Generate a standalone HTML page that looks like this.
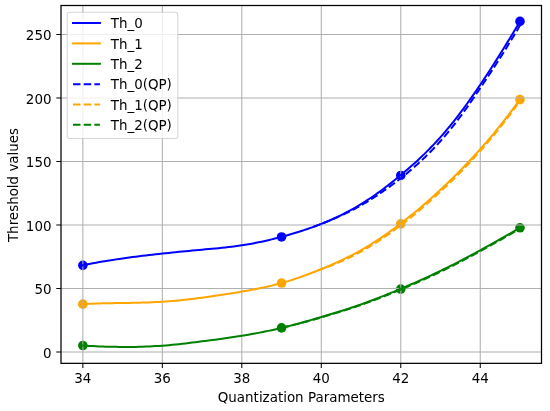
<!DOCTYPE html>
<html><head><meta charset="utf-8"><title>Threshold values vs Quantization Parameters</title>
<style>html,body{margin:0;padding:0;background:#fff;}body{width:550px;height:411px;overflow:hidden}svg{display:block}</style></head>
<body>
<svg width="550" height="411" viewBox="0 0 550 411" font-family="'DejaVu Sans', 'Liberation Sans', sans-serif" font-size="13.45px" fill="#000">
<rect width="550" height="411" fill="#fff"/>
<circle cx="82.85" cy="265.28" r="4.8" fill="#0000ff"/>
<circle cx="281.55" cy="236.95" r="4.8" fill="#0000ff"/>
<circle cx="400.77" cy="175.47" r="4.8" fill="#0000ff"/>
<circle cx="519.99" cy="21.40" r="4.8" fill="#0000ff"/>
<circle cx="82.85" cy="304.14" r="4.8" fill="#ffa500"/>
<circle cx="281.55" cy="283.06" r="4.8" fill="#ffa500"/>
<circle cx="400.77" cy="223.87" r="4.8" fill="#ffa500"/>
<circle cx="519.99" cy="99.64" r="4.8" fill="#ffa500"/>
<circle cx="82.85" cy="345.55" r="4.8" fill="#008000"/>
<circle cx="281.55" cy="327.90" r="4.8" fill="#008000"/>
<circle cx="400.77" cy="289.03" r="4.8" fill="#008000"/>
<circle cx="519.99" cy="227.80" r="4.8" fill="#008000"/>
<path d="M82.85,5.5V363.35M162.33,5.5V363.35M241.81,5.5V363.35M321.29,5.5V363.35M400.77,5.5V363.35M480.25,5.5V363.35M61.0,352.03H541.5M61.0,288.52H541.5M61.0,225.01H541.5M61.0,161.50H541.5M61.0,97.99H541.5M61.0,34.48H541.5" stroke="#b0b0b0" stroke-width="1.05" fill="none"/>
<clipPath id="c"><rect x="61.0" y="5.5" width="480.5" height="357.85"/></clipPath>
<g clip-path="url(#c)" fill="none" stroke-linejoin="round">
<path d="M82.85,265.28 L86.16,264.59 L89.47,263.93 L92.78,263.30 L96.10,262.68 L99.41,262.08 L102.72,261.51 L106.03,260.95 L109.34,260.41 L112.66,259.89 L115.97,259.38 L119.28,258.89 L122.59,258.42 L125.90,257.96 L129.21,257.51 L132.53,257.07 L135.84,256.65 L139.15,256.24 L142.46,255.83 L145.77,255.44 L149.08,255.06 L152.39,254.68 L155.71,254.31 L159.02,253.95 L162.33,253.59 L165.64,253.24 L168.95,252.89 L172.26,252.54 L175.58,252.20 L178.89,251.87 L182.20,251.54 L185.51,251.21 L188.82,250.89 L192.13,250.58 L195.45,250.26 L198.76,249.96 L202.07,249.65 L205.38,249.35 L208.69,249.05 L212.00,248.75 L215.32,248.45 L218.63,248.13 L221.94,247.80 L225.25,247.45 L228.56,247.08 L231.88,246.69 L235.19,246.27 L238.50,245.82 L241.81,245.33 L245.12,244.81 L248.43,244.25 L251.75,243.65 L255.06,243.02 L258.37,242.35 L261.68,241.65 L264.99,240.92 L268.30,240.16 L271.62,239.37 L274.93,238.55 L278.24,237.70 L281.55,236.82 L284.86,235.92 L288.17,234.99 L291.49,234.04 L294.80,233.05 L298.11,232.03 L301.42,230.98 L304.73,229.89 L308.04,228.77 L311.36,227.60 L314.67,226.40 L317.98,225.15 L321.29,223.87 L324.60,222.53 L327.91,221.15 L331.23,219.72 L334.54,218.24 L337.85,216.70 L341.16,215.11 L344.47,213.45 L347.78,211.73 L351.10,209.95 L354.41,208.10 L357.72,206.17 L361.03,204.18 L364.34,202.11 L367.65,199.96 L370.97,197.75 L374.28,195.47 L377.59,193.12 L380.90,190.71 L384.21,188.24 L387.52,185.72 L390.84,183.13 L394.15,180.50 L397.46,177.82 L400.77,175.09 L404.08,172.32 L407.39,169.49 L410.71,166.61 L414.02,163.67 L417.33,160.66 L420.64,157.57 L423.95,154.40 L427.26,151.14 L430.58,147.79 L433.89,144.34 L437.20,140.78 L440.51,137.11 L443.82,133.32 L447.13,129.42 L450.45,125.40 L453.76,121.27 L457.07,117.04 L460.38,112.71 L463.69,108.28 L467.00,103.75 L470.32,99.14 L473.63,94.44 L476.94,89.65 L480.25,84.78 L483.56,79.84 L486.87,74.82 L490.19,69.73 L493.50,64.58 L496.81,59.36 L500.12,54.09 L503.43,48.76 L506.74,43.37 L510.06,37.94 L513.37,32.47 L516.68,26.95 L519.99,21.40" stroke="#0000ff" stroke-width="2.0" stroke-linecap="square"/>
<path d="M82.85,304.14 L86.16,303.97 L89.47,303.81 L92.78,303.67 L96.10,303.55 L99.41,303.45 L102.72,303.36 L106.03,303.29 L109.34,303.22 L112.66,303.16 L115.97,303.10 L119.28,303.05 L122.59,303.00 L125.90,302.95 L129.21,302.89 L132.53,302.83 L135.84,302.77 L139.15,302.69 L142.46,302.61 L145.77,302.51 L149.08,302.39 L152.39,302.26 L155.71,302.10 L159.02,301.93 L162.33,301.73 L165.64,301.51 L168.95,301.26 L172.26,300.99 L175.58,300.69 L178.89,300.38 L182.20,300.04 L185.51,299.69 L188.82,299.31 L192.13,298.92 L195.45,298.52 L198.76,298.10 L202.07,297.67 L205.38,297.22 L208.69,296.76 L212.00,296.29 L215.32,295.81 L218.63,295.32 L221.94,294.82 L225.25,294.30 L228.56,293.78 L231.88,293.24 L235.19,292.69 L238.50,292.14 L241.81,291.57 L245.12,290.99 L248.43,290.40 L251.75,289.79 L255.06,289.16 L258.37,288.52 L261.68,287.84 L264.99,287.13 L268.30,286.40 L271.62,285.62 L274.93,284.81 L278.24,283.96 L281.55,283.06 L284.86,282.11 L288.17,281.12 L291.49,280.08 L294.80,279.00 L298.11,277.88 L301.42,276.72 L304.73,275.53 L308.04,274.30 L311.36,273.04 L314.67,271.75 L317.98,270.43 L321.29,269.09 L324.60,267.72 L327.91,266.32 L331.23,264.90 L334.54,263.44 L337.85,261.94 L341.16,260.40 L344.47,258.82 L347.78,257.20 L351.10,255.52 L354.41,253.79 L357.72,252.01 L361.03,250.16 L364.34,248.25 L367.65,246.28 L370.97,244.26 L374.28,242.17 L377.59,240.02 L380.90,237.82 L384.21,235.56 L387.52,233.25 L390.84,230.88 L394.15,228.47 L397.46,226.00 L400.77,223.49 L404.08,220.92 L407.39,218.31 L410.71,215.65 L414.02,212.95 L417.33,210.20 L420.64,207.40 L423.95,204.56 L427.26,201.68 L430.58,198.75 L433.89,195.77 L437.20,192.76 L440.51,189.70 L443.82,186.60 L447.13,183.45 L450.45,180.26 L453.76,177.02 L457.07,173.74 L460.38,170.40 L463.69,167.00 L467.00,163.56 L470.32,160.05 L473.63,156.49 L476.94,152.87 L480.25,149.18 L483.56,145.43 L486.87,141.61 L490.19,137.73 L493.50,133.77 L496.81,129.74 L500.12,125.64 L503.43,121.47 L506.74,117.21 L510.06,112.88 L513.37,108.47 L516.68,103.97 L519.99,99.39" stroke="#ffa500" stroke-width="2.0" stroke-linecap="square"/>
<path d="M82.85,345.55 L86.16,345.74 L89.47,345.92 L92.78,346.09 L96.10,346.24 L99.41,346.38 L102.72,346.51 L106.03,346.63 L109.34,346.72 L112.66,346.81 L115.97,346.87 L119.28,346.92 L122.59,346.95 L125.90,346.96 L129.21,346.95 L132.53,346.93 L135.84,346.88 L139.15,346.81 L142.46,346.72 L145.77,346.61 L149.08,346.47 L152.39,346.31 L155.71,346.12 L159.02,345.91 L162.33,345.68 L165.64,345.42 L168.95,345.13 L172.26,344.82 L175.58,344.49 L178.89,344.14 L182.20,343.78 L185.51,343.40 L188.82,343.01 L192.13,342.61 L195.45,342.20 L198.76,341.78 L202.07,341.36 L205.38,340.94 L208.69,340.51 L212.00,340.08 L215.32,339.64 L218.63,339.19 L221.94,338.74 L225.25,338.27 L228.56,337.80 L231.88,337.31 L235.19,336.81 L238.50,336.30 L241.81,335.77 L245.12,335.23 L248.43,334.66 L251.75,334.08 L255.06,333.48 L258.37,332.86 L261.68,332.22 L264.99,331.56 L268.30,330.88 L271.62,330.17 L274.93,329.44 L278.24,328.68 L281.55,327.90 L284.86,327.09 L288.17,326.25 L291.49,325.40 L294.80,324.52 L298.11,323.62 L301.42,322.71 L304.73,321.78 L308.04,320.84 L311.36,319.88 L314.67,318.92 L317.98,317.95 L321.29,316.97 L324.60,315.99 L327.91,315.01 L331.23,314.01 L334.54,313.01 L337.85,312.00 L341.16,310.97 L344.47,309.92 L347.78,308.86 L351.10,307.78 L354.41,306.68 L357.72,305.55 L361.03,304.40 L364.34,303.22 L367.65,302.01 L370.97,300.78 L374.28,299.52 L377.59,298.24 L380.90,296.94 L384.21,295.62 L387.52,294.28 L390.84,292.93 L394.15,291.56 L397.46,290.17 L400.77,288.77 L404.08,287.36 L407.39,285.94 L410.71,284.51 L414.02,283.06 L417.33,281.60 L420.64,280.12 L423.95,278.62 L427.26,277.11 L430.58,275.58 L433.89,274.03 L437.20,272.46 L440.51,270.86 L443.82,269.25 L447.13,267.62 L450.45,265.96 L453.76,264.29 L457.07,262.60 L460.38,260.89 L463.69,259.16 L467.00,257.42 L470.32,255.66 L473.63,253.88 L476.94,252.09 L480.25,250.29 L483.56,248.47 L486.87,246.64 L490.19,244.80 L493.50,242.94 L496.81,241.08 L500.12,239.21 L503.43,237.33 L506.74,235.44 L510.06,233.54 L513.37,231.63 L516.68,229.72 L519.99,227.80" stroke="#008000" stroke-width="2.0" stroke-linecap="square"/>
<path d="M313.34,226.89 L314.12,226.60 L314.91,226.31 L315.69,226.02 L316.47,225.74 L317.26,225.44 L318.04,225.15 L318.82,224.86 L319.60,224.56 L320.39,224.27 L321.17,223.97 L321.95,223.67 L322.74,223.37 L323.52,223.06 L324.30,222.76 L325.08,222.45 L325.87,222.14 L326.65,221.82 L327.43,221.51 L328.21,221.19 L329.00,220.87 L329.78,220.55 L330.56,220.22 L331.35,219.89 L332.13,219.56 L332.91,219.22 L333.69,218.89 L334.48,218.55 L335.26,218.20 L336.04,217.86 L336.82,217.51 L337.61,217.16 L338.39,216.81 L339.17,216.46 L339.96,216.10 L340.74,215.74 L341.52,215.38 L342.30,215.02 L343.09,214.65 L343.87,214.28 L344.65,213.91 L345.44,213.53 L346.22,213.15 L347.00,212.77 L347.78,212.38 L348.57,211.99 L349.35,211.60 L350.13,211.21 L350.91,210.81 L351.70,210.41 L352.48,210.00 L353.26,209.59 L354.05,209.18 L354.83,208.76 L355.61,208.34 L356.39,207.92 L357.18,207.49 L357.96,207.06 L358.74,206.62 L359.52,206.18 L360.31,205.74 L361.09,205.29 L361.87,204.83 L362.66,204.38 L363.44,203.92 L364.22,203.46 L365.00,202.99 L365.79,202.52 L366.57,202.05 L367.35,201.57 L368.14,201.09 L368.92,200.61 L369.70,200.12 L370.48,199.63 L371.27,199.14 L372.05,198.64 L372.83,198.14 L373.61,197.64 L374.40,197.13 L375.18,196.62 L375.96,196.11 L376.75,195.59 L377.53,195.07 L378.31,194.55 L379.09,194.02 L379.88,193.49 L380.66,192.96 L381.44,192.42 L382.22,191.88 L383.01,191.34 L383.79,190.79 L384.57,190.24 L385.36,189.69 L386.14,189.13 L386.92,188.58 L387.70,188.02 L388.49,187.46 L389.27,186.90 L390.05,186.33 L390.84,185.77 L391.62,185.20 L392.40,184.62 L393.18,184.05 L393.97,183.47 L394.75,182.89 L395.53,182.30 L396.31,181.71 L397.10,181.12 L397.88,180.52 L398.66,179.91 L399.45,179.31 L400.23,178.69 L401.01,178.08 L401.79,177.45 L402.58,176.83 L403.36,176.20 L404.14,175.57 L404.92,174.94 L405.71,174.30 L406.49,173.66 L407.27,173.01 L408.06,172.36 L408.84,171.70 L409.62,171.05 L410.40,170.38 L411.19,169.71 L411.97,169.04 L412.75,168.36 L413.53,167.68 L414.32,166.99 L415.10,166.30 L415.88,165.60 L416.67,164.90 L417.45,164.20 L418.23,163.49 L419.01,162.78 L419.80,162.06 L420.58,161.34 L421.36,160.61 L422.15,159.88 L422.93,159.15 L423.71,158.40 L424.49,157.66 L425.28,156.91 L426.06,156.15 L426.84,155.39 L427.62,154.62 L428.41,153.84 L429.19,153.06 L429.97,152.28 L430.76,151.48 L431.54,150.68 L432.32,149.88 L433.10,149.07 L433.89,148.25 L434.67,147.42 L435.45,146.59 L436.23,145.75 L437.02,144.91 L437.80,144.06 L438.58,143.20 L439.37,142.33 L440.15,141.46 L440.93,140.57 L441.71,139.68 L442.50,138.79 L443.28,137.89 L444.06,136.98 L444.85,136.06 L445.63,135.13 L446.41,134.20 L447.19,133.27 L447.98,132.32 L448.76,131.37 L449.54,130.41 L450.32,129.45 L451.11,128.48 L451.89,127.50 L452.67,126.52 L453.46,125.53 L454.24,124.54 L455.02,123.53 L455.80,122.53 L456.59,121.51 L457.37,120.49 L458.15,119.47 L458.93,118.44 L459.72,117.40 L460.50,116.36 L461.28,115.31 L462.07,114.25 L462.85,113.19 L463.63,112.11 L464.41,111.03 L465.20,109.94 L465.98,108.85 L466.76,107.74 L467.55,106.64 L468.33,105.52 L469.11,104.40 L469.89,103.28 L470.68,102.15 L471.46,101.01 L472.24,99.88 L473.02,98.73 L473.81,97.59 L474.59,96.44 L475.37,95.29 L476.16,94.14 L476.94,92.98 L477.72,91.83 L478.50,90.67 L479.29,89.51 L480.07,88.35 L480.85,87.19 L481.63,86.03 L482.42,84.86 L483.20,83.70 L483.98,82.53 L484.77,81.36 L485.55,80.18 L486.33,79.01 L487.11,77.83 L487.90,76.65 L488.68,75.47 L489.46,74.28 L490.25,73.09 L491.03,71.90 L491.81,70.71 L492.59,69.51 L493.38,68.31 L494.16,67.11 L494.94,65.90 L495.72,64.70 L496.51,63.48 L497.29,62.27 L498.07,61.05 L498.86,59.82 L499.64,58.60 L500.42,57.37 L501.20,56.13 L501.99,54.90 L502.77,53.66 L503.55,52.41 L504.33,51.16 L505.12,49.91 L505.90,48.65 L506.68,47.39 L507.47,46.12 L508.25,44.85 L509.03,43.58 L509.81,42.30 L510.60,41.02 L511.38,39.74 L512.16,38.45 L512.95,37.17 L513.73,35.88 L514.51,34.58 L515.29,33.29 L516.08,31.99 L516.86,30.69 L517.64,29.39 L518.42,28.08 L519.21,26.77 L519.99,25.46" stroke="#0000ff" stroke-width="2.0" stroke-dasharray="7.47 3.23"/>
<path d="M317.32,270.70 L318.08,270.39 L318.85,270.09 L319.62,269.80 L320.39,269.51 L321.15,269.23 L321.92,268.95 L322.69,268.67 L323.46,268.40 L324.23,268.13 L324.99,267.85 L325.76,267.58 L326.53,267.31 L327.30,267.03 L328.06,266.76 L328.83,266.48 L329.60,266.19 L330.37,265.90 L331.13,265.61 L331.90,265.31 L332.67,265.01 L333.44,264.69 L334.21,264.38 L334.97,264.06 L335.74,263.74 L336.51,263.41 L337.28,263.09 L338.04,262.76 L338.81,262.43 L339.58,262.09 L340.35,261.76 L341.11,261.42 L341.88,261.08 L342.65,260.73 L343.42,260.38 L344.19,260.03 L344.95,259.68 L345.72,259.32 L346.49,258.97 L347.26,258.60 L348.02,258.24 L348.79,257.87 L349.56,257.50 L350.33,257.13 L351.10,256.75 L351.86,256.37 L352.63,255.98 L353.40,255.60 L354.17,255.21 L354.93,254.81 L355.70,254.41 L356.47,254.01 L357.24,253.61 L358.00,253.20 L358.77,252.79 L359.54,252.37 L360.31,251.95 L361.08,251.53 L361.84,251.11 L362.61,250.68 L363.38,250.24 L364.15,249.81 L364.91,249.37 L365.68,248.92 L366.45,248.48 L367.22,248.03 L367.98,247.57 L368.75,247.12 L369.52,246.66 L370.29,246.19 L371.06,245.73 L371.82,245.26 L372.59,244.78 L373.36,244.31 L374.13,243.83 L374.89,243.34 L375.66,242.86 L376.43,242.37 L377.20,241.87 L377.96,241.38 L378.73,240.88 L379.50,240.38 L380.27,239.87 L381.04,239.36 L381.80,238.85 L382.57,238.34 L383.34,237.82 L384.11,237.30 L384.87,236.77 L385.64,236.25 L386.41,235.72 L387.18,235.18 L387.94,234.65 L388.71,234.11 L389.48,233.57 L390.25,233.02 L391.02,232.47 L391.78,231.92 L392.55,231.37 L393.32,230.81 L394.09,230.25 L394.85,229.69 L395.62,229.13 L396.39,228.56 L397.16,227.99 L397.92,227.41 L398.69,226.84 L399.46,226.26 L400.23,225.68 L401.00,225.09 L401.76,224.50 L402.53,223.91 L403.30,223.32 L404.07,222.73 L404.83,222.13 L405.60,221.53 L406.37,220.93 L407.14,220.32 L407.91,219.72 L408.67,219.10 L409.44,218.49 L410.21,217.88 L410.98,217.26 L411.74,216.64 L412.51,216.02 L413.28,215.39 L414.05,214.76 L414.81,214.13 L415.58,213.50 L416.35,212.86 L417.12,212.23 L417.89,211.59 L418.65,210.94 L419.42,210.30 L420.19,209.65 L420.96,209.00 L421.72,208.35 L422.49,207.69 L423.26,207.03 L424.03,206.37 L424.79,205.71 L425.56,205.04 L426.33,204.38 L427.10,203.71 L427.87,203.03 L428.63,202.36 L429.40,201.68 L430.17,201.00 L430.94,200.32 L431.70,199.63 L432.47,198.95 L433.24,198.26 L434.01,197.56 L434.77,196.87 L435.54,196.17 L436.31,195.47 L437.08,194.77 L437.85,194.07 L438.61,193.36 L439.38,192.65 L440.15,191.94 L440.92,191.23 L441.68,190.51 L442.45,189.79 L443.22,189.07 L443.99,188.35 L444.75,187.62 L445.52,186.89 L446.29,186.16 L447.06,185.42 L447.83,184.69 L448.59,183.95 L449.36,183.21 L450.13,182.46 L450.90,181.72 L451.66,180.97 L452.43,180.21 L453.20,179.46 L453.97,178.70 L454.74,177.94 L455.50,177.18 L456.27,176.41 L457.04,175.64 L457.81,174.87 L458.57,174.09 L459.34,173.32 L460.11,172.54 L460.88,171.75 L461.64,170.97 L462.41,170.18 L463.18,169.38 L463.95,168.59 L464.72,167.79 L465.48,166.99 L466.25,166.18 L467.02,165.38 L467.79,164.57 L468.55,163.75 L469.32,162.94 L470.09,162.12 L470.86,161.29 L471.62,160.47 L472.39,159.64 L473.16,158.80 L473.93,157.97 L474.70,157.13 L475.46,156.29 L476.23,155.44 L477.00,154.59 L477.77,153.74 L478.53,152.88 L479.30,152.02 L480.07,151.16 L480.84,150.29 L481.60,149.42 L482.37,148.55 L483.14,147.67 L483.91,146.79 L484.68,145.91 L485.44,145.02 L486.21,144.13 L486.98,143.24 L487.75,142.34 L488.51,141.43 L489.28,140.53 L490.05,139.62 L490.82,138.70 L491.58,137.78 L492.35,136.86 L493.12,135.94 L493.89,135.01 L494.66,134.07 L495.42,133.14 L496.19,132.19 L496.96,131.25 L497.73,130.30 L498.49,129.35 L499.26,128.39 L500.03,127.43 L500.80,126.46 L501.57,125.49 L502.33,124.52 L503.10,123.54 L503.87,122.56 L504.64,121.57 L505.40,120.58 L506.17,119.58 L506.94,118.58 L507.71,117.58 L508.47,116.57 L509.24,115.56 L510.01,114.54 L510.78,113.52 L511.55,112.49 L512.31,111.46 L513.08,110.43 L513.85,109.39 L514.62,108.35 L515.38,107.30 L516.15,106.24 L516.92,105.19 L517.69,104.13 L518.45,103.06 L519.22,101.99 L519.99,100.91" stroke="#ffa500" stroke-width="2.0" stroke-dasharray="7.47 3.23"/>
<path d="M281.55,327.90 L282.45,327.68 L283.36,327.46 L284.26,327.25 L285.16,327.03 L286.07,326.81 L286.97,326.59 L287.87,326.38 L288.78,326.16 L289.68,325.94 L290.58,325.72 L291.49,325.50 L292.39,325.27 L293.29,325.05 L294.19,324.82 L295.10,324.60 L296.00,324.37 L296.90,324.14 L297.81,323.91 L298.71,323.67 L299.61,323.44 L300.52,323.20 L301.42,322.96 L302.32,322.72 L303.23,322.48 L304.13,322.23 L305.03,321.99 L305.94,321.74 L306.84,321.50 L307.74,321.25 L308.65,321.00 L309.55,320.75 L310.45,320.50 L311.36,320.25 L312.26,320.00 L313.16,319.75 L314.06,319.49 L314.97,319.24 L315.87,318.98 L316.77,318.72 L317.68,318.46 L318.58,318.20 L319.48,317.94 L320.39,317.68 L321.29,317.42 L322.19,317.15 L323.10,316.89 L324.00,316.62 L324.90,316.36 L325.81,316.09 L326.71,315.82 L327.61,315.56 L328.52,315.29 L329.42,315.02 L330.32,314.75 L331.23,314.48 L332.13,314.21 L333.03,313.94 L333.93,313.66 L334.84,313.39 L335.74,313.12 L336.64,312.84 L337.55,312.56 L338.45,312.29 L339.35,312.01 L340.26,311.73 L341.16,311.45 L342.06,311.17 L342.97,310.88 L343.87,310.60 L344.77,310.31 L345.68,310.02 L346.58,309.74 L347.48,309.45 L348.39,309.15 L349.29,308.86 L350.19,308.57 L351.10,308.27 L352.00,307.97 L352.90,307.67 L353.80,307.37 L354.71,307.07 L355.61,306.77 L356.51,306.46 L357.42,306.15 L358.32,305.84 L359.22,305.53 L360.13,305.22 L361.03,304.91 L361.93,304.59 L362.84,304.27 L363.74,303.95 L364.64,303.63 L365.55,303.30 L366.45,302.98 L367.35,302.65 L368.26,302.32 L369.16,302.00 L370.06,301.66 L370.97,301.33 L371.87,301.00 L372.77,300.66 L373.67,300.32 L374.58,299.98 L375.48,299.64 L376.38,299.30 L377.29,298.96 L378.19,298.61 L379.09,298.26 L380.00,297.92 L380.90,297.57 L381.80,297.22 L382.71,296.86 L383.61,296.51 L384.51,296.16 L385.42,295.80 L386.32,295.44 L387.22,295.08 L388.13,294.72 L389.03,294.36 L389.93,294.00 L390.84,293.63 L391.74,293.26 L392.64,292.90 L393.54,292.53 L394.45,292.16 L395.35,291.79 L396.25,291.42 L397.16,291.04 L398.06,290.67 L398.96,290.29 L399.87,289.91 L400.77,289.54 L401.67,289.16 L402.58,288.78 L403.48,288.40 L404.38,288.01 L405.29,287.63 L406.19,287.25 L407.09,286.86 L408.00,286.48 L408.90,286.09 L409.80,285.70 L410.71,285.31 L411.61,284.92 L412.51,284.53 L413.41,284.14 L414.32,283.75 L415.22,283.35 L416.12,282.96 L417.03,282.56 L417.93,282.16 L418.83,281.77 L419.74,281.36 L420.64,280.96 L421.54,280.56 L422.45,280.16 L423.35,279.75 L424.25,279.34 L425.16,278.93 L426.06,278.52 L426.96,278.11 L427.87,277.70 L428.77,277.29 L429.67,276.87 L430.58,276.45 L431.48,276.03 L432.38,275.61 L433.28,275.19 L434.19,274.77 L435.09,274.34 L435.99,273.92 L436.90,273.49 L437.80,273.06 L438.70,272.62 L439.61,272.19 L440.51,271.75 L441.41,271.32 L442.32,270.88 L443.22,270.44 L444.12,269.99 L445.03,269.55 L445.93,269.10 L446.83,268.66 L447.74,268.21 L448.64,267.76 L449.54,267.31 L450.45,266.85 L451.35,266.40 L452.25,265.94 L453.15,265.49 L454.06,265.03 L454.96,264.57 L455.86,264.11 L456.77,263.64 L457.67,263.18 L458.57,262.71 L459.48,262.25 L460.38,261.78 L461.28,261.31 L462.19,260.84 L463.09,260.37 L463.99,259.89 L464.90,259.42 L465.80,258.94 L466.70,258.47 L467.61,257.99 L468.51,257.51 L469.41,257.03 L470.32,256.55 L471.22,256.06 L472.12,255.58 L473.02,255.09 L473.93,254.61 L474.83,254.12 L475.73,253.63 L476.64,253.14 L477.54,252.65 L478.44,252.16 L479.35,251.67 L480.25,251.18 L481.15,250.68 L482.06,250.19 L482.96,249.69 L483.86,249.19 L484.77,248.69 L485.67,248.19 L486.57,247.69 L487.48,247.19 L488.38,246.69 L489.28,246.18 L490.19,245.68 L491.09,245.17 L491.99,244.66 L492.89,244.15 L493.80,243.65 L494.70,243.14 L495.60,242.62 L496.51,242.11 L497.41,241.60 L498.31,241.09 L499.22,240.57 L500.12,240.06 L501.02,239.54 L501.93,239.03 L502.83,238.51 L503.73,237.99 L504.64,237.47 L505.54,236.95 L506.44,236.43 L507.35,235.91 L508.25,235.39 L509.15,234.87 L510.06,234.35 L510.96,233.82 L511.86,233.30 L512.76,232.78 L513.67,232.25 L514.57,231.73 L515.47,231.20 L516.38,230.67 L517.28,230.15 L518.18,229.62 L519.09,229.09 L519.99,228.57" stroke="#008000" stroke-width="2.0" stroke-dasharray="7.47 3.23"/>
</g>
<path d="M82.85,363.35v4.7M162.33,363.35v4.7M241.81,363.35v4.7M321.29,363.35v4.7M400.77,363.35v4.7M480.25,363.35v4.7M61.0,352.03h-4.7M61.0,288.52h-4.7M61.0,225.01h-4.7M61.0,161.50h-4.7M61.0,97.99h-4.7M61.0,34.48h-4.7" stroke="#000" stroke-width="1.05" fill="none"/>
<rect x="61.0" y="5.5" width="480.5" height="357.85" fill="none" stroke="#000" stroke-width="1.25"/>
<text x="82.85" y="383.2" text-anchor="middle">34</text>
<text x="162.33" y="383.2" text-anchor="middle">36</text>
<text x="241.81" y="383.2" text-anchor="middle">38</text>
<text x="321.29" y="383.2" text-anchor="middle">40</text>
<text x="400.77" y="383.2" text-anchor="middle">42</text>
<text x="480.25" y="383.2" text-anchor="middle">44</text>
<text x="51.5" y="357.73" text-anchor="end">0</text>
<text x="51.5" y="294.22" text-anchor="end">50</text>
<text x="51.5" y="230.71" text-anchor="end">100</text>
<text x="51.5" y="167.20" text-anchor="end">150</text>
<text x="51.5" y="103.69" text-anchor="end">200</text>
<text x="51.5" y="40.18" text-anchor="end">250</text>
<text x="301.3" y="401.6" text-anchor="middle">Quantization Parameters</text>
<text transform="translate(17.5,185.0) rotate(-90)" text-anchor="middle">Threshold values</text>
<rect x="67.2" y="12.2" width="110.60000000000001" height="126.2" rx="2.7" fill="#fff" fill-opacity="0.8" stroke="#ccc" stroke-opacity="0.8" stroke-width="1.05"/>
<path d="M73,23.0H99.9" stroke="#0000ff" stroke-width="2.0" stroke-linecap="square"/>
<text x="110.7" y="28.10">Th_0</text>
<path d="M73,43.4H99.9" stroke="#ffa500" stroke-width="2.0" stroke-linecap="square"/>
<text x="110.7" y="48.50">Th_1</text>
<path d="M73,63.8H99.9" stroke="#008000" stroke-width="2.0" stroke-linecap="square"/>
<text x="110.7" y="68.90">Th_2</text>
<path d="M73,84.2H99.9" stroke="#0000ff" stroke-width="2.0" stroke-dasharray="7.47 3.23"/>
<text x="110.7" y="89.30">Th_0(QP)</text>
<path d="M73,104.6H99.9" stroke="#ffa500" stroke-width="2.0" stroke-dasharray="7.47 3.23"/>
<text x="110.7" y="109.70">Th_1(QP)</text>
<path d="M73,124.8H99.9" stroke="#008000" stroke-width="2.0" stroke-dasharray="7.47 3.23"/>
<text x="110.7" y="129.90">Th_2(QP)</text>
</svg>
</body></html>
